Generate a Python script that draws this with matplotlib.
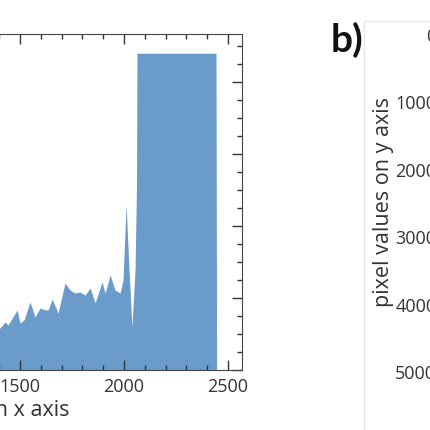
import numpy as np
import matplotlib
matplotlib.use("Agg")
import matplotlib.pyplot as plt
from matplotlib.ticker import MultipleLocator
from matplotlib.patches import Rectangle

# panel a: column profile (pixel count along x)
x_px = [1200, 1260, 1320, 1370, 1404, 1428, 1442, 1486, 1500, 1520, 1548, 1572,
        1596, 1615, 1635, 1654, 1683, 1716, 1740, 1764, 1788, 1813, 1837, 1861,
        1894, 1909, 1933, 1957, 1981, 1995, 2010, 2022, 2038, 2053, 2060, 2062,
        2442, 2445]
counts = [420, 520, 470, 610, 583, 667, 625, 833, 653, 700, 944, 736,
          861, 840, 833, 986, 792, 1208, 1111, 1069, 1083, 1042, 1139, 931,
          1222, 1069, 1319, 1111, 1069, 1250, 2292, 1500, 597, 1400, 2600, 4400,
          4400, 0]

# panel b: y axis ticks
y_ticks_b = [0, 1000, 2000, 3000, 4000, 5000]

plt.rcParams['font.family'] = ['Open Sans', 'DejaVu Sans']

fig = plt.figure(figsize=(4.3, 4.3), dpi=100)
W = H = 430.0

# ---- panel a (mostly cropped off to the left)
ax1 = fig.add_axes([-292 / W, 60 / H, 534 / W, 336 / H])
ax1.fill_between(x_px, counts, color='#6a9bcb', lw=0)
ax1.set_xlim(0, 2567)
ax1.set_ylim(0, 4667)
ax1.xaxis.set_major_locator(MultipleLocator(500))
ax1.xaxis.set_minor_locator(MultipleLocator(100))
ax1.yaxis.set_major_locator(MultipleLocator(1000))
ax1.yaxis.set_minor_locator(MultipleLocator(250))
ax1.tick_params(which='both', direction='in', top=True, right=True,
                color='#333333', labelcolor='#333333', labelsize=13)
ax1.tick_params(which='major', length=7, width=1, pad=6)
ax1.tick_params(which='minor', length=3.5, width=1)
for s in ax1.spines.values():
    s.set_color('#444444')
ax1.set_xlabel('pixel values on x axis', fontsize=15.5, color='#333333')
ax1.xaxis.set_label_coords(0.48, -0.09)

# ---- panel b (only its y axis edge is visible)
fig.add_artist(Rectangle((364 / W, -0.1), 0.5, 1 - 20.7 / H + 0.1,
                         transform=fig.transFigure, fill=False,
                         ec='#e6e6e6', lw=1))
fig.text(331 / W, 1 - 52 / H, 'b)', fontsize=28, family='Lato',
         weight='bold', va='baseline', ha='left', color='#111111')

ax2 = fig.add_axes([446 / W, 24 / H, 0.5, 371 / H])
ax2.set_ylim(5500, 0)
ax2.set_yticks(y_ticks_b)
ax2.set_xticks([])
ax2.tick_params(axis='y', labelsize=13, labelcolor='#333333', color='#333333')
ax2.set_ylabel('pixel values on y axis', fontsize=15.5, color='#333333')
ax2.yaxis.set_label_coords(-0.24, 0.55)

fig.savefig('out.png', dpi=100)
